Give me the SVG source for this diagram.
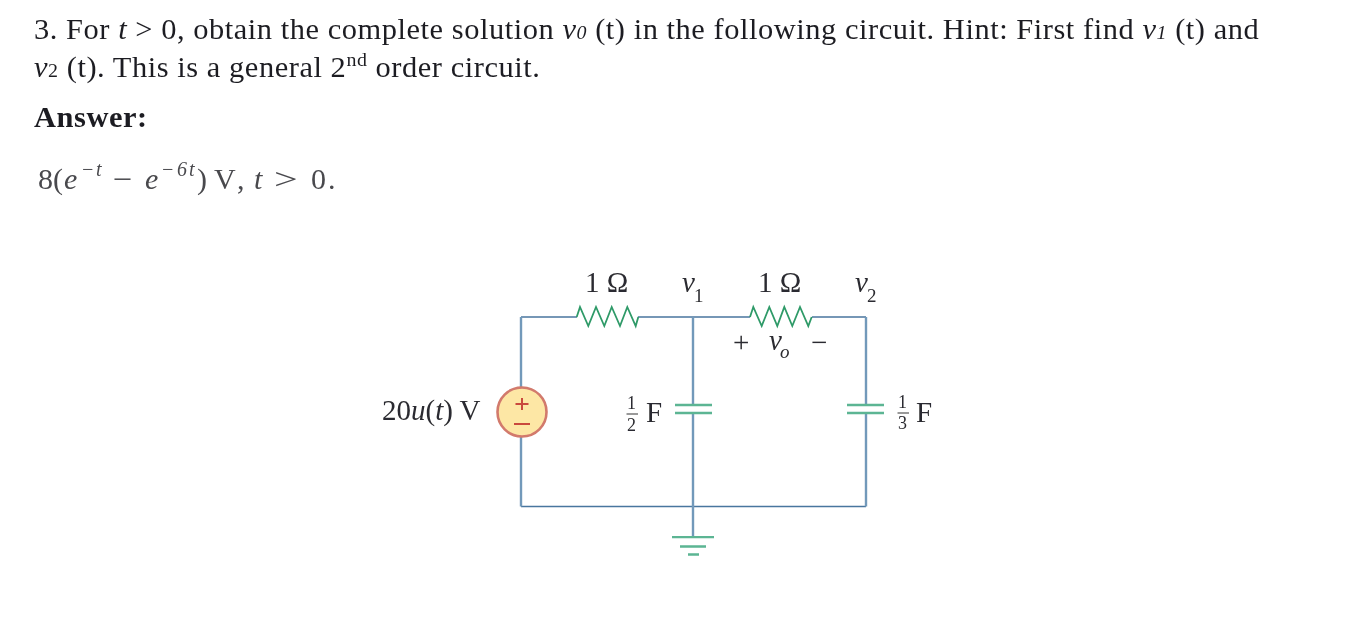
<svg xmlns="http://www.w3.org/2000/svg" width="1353" height="617" viewBox="0 0 1353 617">
<defs>
<style>
text{font-family:"Liberation Serif","Times New Roman",serif;fill:#1f1f24}
.t{font-size:29px;letter-spacing:.52px}
.a{font-size:30px;fill:#4a4a4e}
.as{font-size:20px;fill:#4a4a4e}
.c{font-size:29px;fill:#2c2c30}
.s{font-size:19px;fill:#2c2c30}
.f{font-size:18px;fill:#2c2c30}
.i{font-style:italic}
.wh{fill:none;stroke:#4a769e;stroke-width:1.6}
.wv{fill:none;stroke:#7299ba;stroke-width:2.4}
.g{fill:none;stroke:#5cb593;stroke-width:2.6}
.r{fill:none;stroke:#2f9a68;stroke-width:1.8}
.b{stroke:#555;stroke-width:1.2;fill:none}
</style>
<filter id="soft" x="-5%" y="-5%" width="110%" height="110%"><feGaussianBlur stdDeviation="0.45"/></filter>
</defs>
<rect width="1353" height="617" fill="#fff"/>
<g id="text" filter="url(#soft)">
<text class="t" transform="translate(34 38.5) scale(1.05 1)">3. For <tspan class="i">t</tspan> &gt; 0, obtain the complete solution <tspan class="i">v</tspan><tspan class="i" font-size="19">0</tspan> (t) in the following circuit. Hint: First find <tspan class="i">v</tspan><tspan class="i" font-size="19">1</tspan> (t) and</text>
<text class="t" transform="translate(34 77) scale(1.05 1)"><tspan class="i">v</tspan><tspan font-size="19">2</tspan> (t). This is a general 2<tspan font-size="19" dy="-11">nd</tspan><tspan dy="11"> order circuit.</tspan></text>
<text class="t" transform="translate(34 127) scale(1.05 1)" font-weight="700">Answer:</text>
<text class="a" x="38" y="189">8(</text>
<text class="a i" x="64" y="189">e</text>
<text class="as i" x="81" y="176">−</text>
<text class="as i" x="96" y="176">t</text>
<text class="a" transform="translate(113 189) scale(1.15 1)">−</text>
<text class="a i" x="145" y="189">e</text>
<text class="as i" x="161" y="176">−</text>
<text class="as i" x="177" y="176">6</text>
<text class="as i" x="189" y="176">t</text>
<text class="a" x="197" y="189">)</text>
<text class="a" x="214" y="189">V</text>
<text class="a" x="237" y="189">,</text>
<text class="a i" x="254" y="189">t</text>
<text class="a" transform="translate(274 189) scale(1.4 1)">&gt;</text>
<text class="a" x="311" y="189">0</text>
<text class="a" x="328" y="189">.</text>
</g>
<g id="connectors" filter="url(#soft)">
<path class="wh" d="M521 317H577M638 317H750M812 317H866M521 506.5H866"/>
<path class="wv" d="M521 387V317M866 317V405M866 413V506.5M521 506.5V437M693 317V405M693 413V537"/>
</g>
<g id="source" filter="url(#soft)">
<circle cx="522" cy="412" r="24.5" fill="#fde7a5" stroke="#d27a6c" stroke-width="2.6"/>
<path d="M522 398V410M515.5 404H528.5M514 424H530" stroke="#c9483c" stroke-width="2" fill="none"/>
<text class="c" x="382" y="420">20<tspan class="i">u</tspan>(<tspan class="i">t</tspan>) V</text>
</g>
<g id="r1" filter="url(#soft)">
<path class="r" d="M576.7 317L580 307L588.3 326L596 307L604.3 326L611.7 307L620 326L627.3 307L635.7 326L638.3 317"/>
<text class="c" x="585" y="292">1 Ω</text>
</g>
<g id="r2" filter="url(#soft)">
<path class="r" d="M750 317L753.3 307L761.7 326L769.3 307L777.3 326L784.3 307L792.3 326L800 307L808.3 326L811.7 317"/>
<text class="c" x="758" y="292">1 Ω</text>
<text class="c" x="733" y="352">+</text>
<text class="c i" x="769" y="350">v</text><text class="s i" x="780" y="358">o</text>
<text class="c" x="811" y="352">−</text>
</g>
<g id="v1label" filter="url(#soft)"><text class="c i" x="682" y="292">v</text><text class="s" x="694" y="302">1</text></g>
<g id="v2label" filter="url(#soft)"><text class="c i" x="855" y="292">v</text><text class="s" x="867" y="302">2</text></g>
<g id="c1" filter="url(#soft)">
<path class="g" d="M675 405H712M675 413H712"/>
<text class="f" x="627" y="409">1</text><path class="b" d="M626.5 414H638"/><text class="f" x="627" y="431">2</text>
<text class="c" x="646" y="422">F</text>
</g>
<g id="c2" filter="url(#soft)">
<path class="g" d="M847 405H884M847 413H884"/>
<text class="f" x="898" y="408">1</text><path class="b" d="M897.5 413H909"/><text class="f" x="898" y="429">3</text>
<text class="c" x="916" y="422">F</text>
</g>
<g id="ground" filter="url(#soft)">
<path class="g" d="M672 537H714M680 546.5H706M688 554.5H699"/>
</g>
</svg>
